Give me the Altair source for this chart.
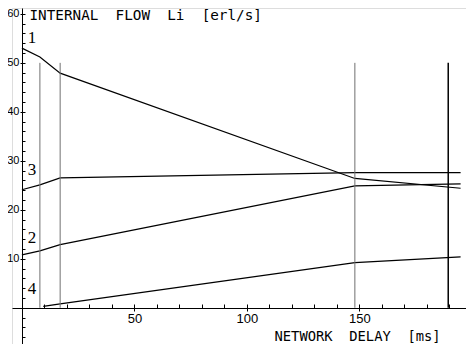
import altair as alt
import pandas as pd

# ---- data ----
x_main = [0, 8, 17, 148, 195]
curve1 = [53.0, 51.2, 47.9, 26.4, 24.4]
curve2 = [10.8, 11.6, 12.9, 24.9, 25.3]
curve3 = [24.1, 25.1, 26.5, 27.6, 27.6]
x_curve4 = [9.5, 17, 148, 195]
curve4 = [0.3, 0.8, 9.2, 10.4]

vlines_gray = [8, 17, 148]
vlines_black = [189.5]
vline_bottom = 0
vline_top = 50

label_text = ["1", "2", "3", "4"]
label_x = [4.5, 4.5, 4.5, 4.5]
label_y = [55.1, 14.3, 28.2, 3.9]

y_major = [10, 20, 30, 40, 50, 60]
y_minor = [-6, -4, -2, 0, 2, 4, 6, 8, 10, 12, 14, 16, 18, 20, 22, 24, 26, 28, 30,
           32, 34, 36, 38, 40, 42, 44, 46, 48, 50, 52, 54, 56, 58, 60]
x_major = [50, 100, 150]
x_minor = [10, 20, 30, 40, 50, 60, 70, 80, 90, 100, 110, 120, 130, 140, 150,
           160, 170, 180, 190]

ytitle_text = "INTERNAL\u00a0\u00a0FLOW\u00a0\u00a0Li\u00a0\u00a0[erl/s]"
xtitle_text = "NETWORK\u00a0\u00a0DELAY\u00a0\u00a0[ms]"

# ---- tables ----
rows = []
for sid, ys in (("1", curve1), ("2", curve2), ("3", curve3)):
    for i, (xv, yv) in enumerate(zip(x_main, ys)):
        rows.append({"x": xv, "y": yv, "series": sid, "order": i})
for i, (xv, yv) in enumerate(zip(x_curve4, curve4)):
    rows.append({"x": xv, "y": yv, "series": "4", "order": i})
df_lines = pd.DataFrame(rows)

df_vg = pd.DataFrame({"x": vlines_gray, "y0": vline_bottom, "y1": vline_top})
df_vb = pd.DataFrame({"x": vlines_black, "y0": vline_bottom, "y1": vline_top})
df_lab = pd.DataFrame({"x": label_x, "y": label_y, "t": label_text})

W, H = 454, 336
xs = alt.Scale(domain=[-4.4, 197.4], nice=False, zero=False)
ys_ = alt.Scale(domain=[-7.4, 61.2], nice=False, zero=False)

bottom_axis = alt.Axis(
    orient="bottom", offset=-36, values=x_major, tickSize=3, tickColor="black",
    domainColor="black", labelFont="Liberation Sans", labelFontSize=13,
    labelColor="black", labelPadding=1, grid=False, labelFlush=False,
    labelOverlap=False, title=xtitle_text, titleX=262, titleY=32,
    titleAlign="left", titleBaseline="alphabetic", titleFont="DejaVu Sans Mono",
    titleFontSize=13.8, titleFontWeight="normal", titleColor="black",
)
left_axis = alt.Axis(
    orient="left", offset=-10, values=y_major, tickSize=2, tickColor="black",
    domainColor="black", labelFont="Liberation Sans", labelFontSize=11,
    labelColor="black", labelPadding=1, grid=False, labelFlush=False,
    labelOverlap=False, title=ytitle_text, titleAngle=0, titleX=7, titleY=11,
    titleAlign="left", titleBaseline="alphabetic", titleFont="DejaVu Sans Mono",
    titleFontSize=14.3, titleFontWeight="normal", titleColor="black",
)
top_axis = alt.Axis(
    orient="top", offset=-300, values=x_minor, tickSize=4, tickColor="black",
    labels=False, domain=False, grid=False, title=None,
)
right_axis = alt.Axis(
    orient="right", offset=-(W - 10), values=y_minor, tickSize=3, tickColor="black",
    labels=False, domain=False, grid=False, title=None,
)

lines = alt.Chart(df_lines).mark_line(color="black", strokeWidth=1.2).encode(
    x=alt.X("x:Q", scale=xs, axis=bottom_axis),
    y=alt.Y("y:Q", scale=ys_, axis=left_axis),
    detail="series:N",
    order="order:Q",
)

rules_gray = alt.Chart(df_vg).mark_rule(color="#707070", strokeWidth=1).encode(
    x=alt.X("x:Q", scale=xs, axis=top_axis),
    y=alt.Y("y0:Q", scale=ys_, axis=right_axis),
    y2="y1:Q",
)

rules_black = alt.Chart(df_vb).mark_rule(color="black", strokeWidth=1.5).encode(
    x=alt.X("x:Q", scale=xs, axis=None),
    y=alt.Y("y0:Q", scale=ys_, axis=None),
    y2="y1:Q",
)

labels = alt.Chart(df_lab).mark_text(
    font="Liberation Serif", fontSize=17, color="black", align="center", baseline="middle"
).encode(
    x=alt.X("x:Q", scale=xs, axis=None),
    y=alt.Y("y:Q", scale=ys_, axis=None),
    text="t:N",
)

chart = alt.layer(lines, rules_gray, rules_black, labels).resolve_axis(
    x="independent", y="independent"
).properties(
    width=W,
    height=H,
    autosize=alt.AutoSizeParams(type="none"),
    padding={"left": 4, "top": 0, "right": 0, "bottom": 0},
).configure_view(stroke=None).configure(background="white")

chart.save("out.html", embed_options={"renderer": "svg", "actions": False})
